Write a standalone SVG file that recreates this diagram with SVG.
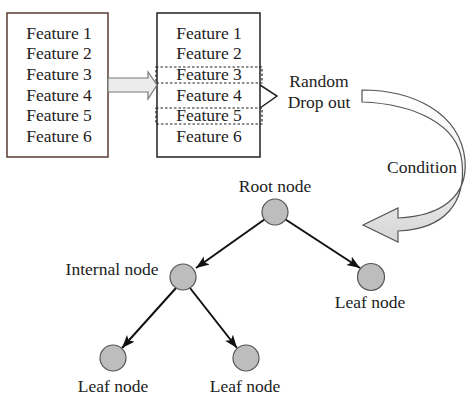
<svg xmlns="http://www.w3.org/2000/svg" width="474" height="404" viewBox="0 0 474 404">
<style>
text{font-family:"Liberation Serif","DejaVu Serif","Times New Roman",serif;font-size:17.5px;fill:#222}
.c{text-anchor:middle}
.box{fill:#fff;stroke-width:1.5}
.dash{fill:none;stroke:#222;stroke-width:1.2;stroke-dasharray:2.5 2}
.node{fill:#bdbdbd;stroke:#555;stroke-width:1.2}
.edge{stroke:#111;stroke-width:2;fill:none;marker-end:url(#ah)}
</style>
<defs>
<marker id="ah" markerUnits="userSpaceOnUse" markerWidth="14" markerHeight="12" refX="13" refY="5" orient="auto">
<path d="M0,0 L13,5 L0,10 L3,5 Z" fill="#111"/>
</marker>
<linearGradient id="g1" x1="0" y1="0" x2="0" y2="1">
<stop offset="0" stop-color="#ffffff"/>
<stop offset="0.5" stop-color="#f2f2f2"/>
<stop offset="1" stop-color="#d6d6d6"/>
</linearGradient>
</defs>
<rect width="474" height="404" fill="#fff"/>
<g font-family="Liberation Serif, DejaVu Serif, serif">
<g id="feature-box-left">
<rect class="box" x="7" y="13" width="101" height="144" stroke="#5a3b30"/>
<text class="c" x="59" y="38.5">Feature 1</text>
<text class="c" x="59" y="59.2">Feature 2</text>
<text class="c" x="59" y="79.9">Feature 3</text>
<text class="c" x="59" y="100.6">Feature 4</text>
<text class="c" x="59" y="121.3">Feature 5</text>
<text class="c" x="59" y="142">Feature 6</text>
</g>
<g id="feature-box-right">
<rect class="box" x="157" y="13" width="103" height="144" stroke="#222"/>
<rect class="dash" x="156" y="67" width="106" height="16"/>
<rect class="dash" x="156" y="108" width="106" height="16"/>
<text class="c" x="209" y="38.5">Feature 1</text>
<text class="c" x="209" y="59.2">Feature 2</text>
<text class="c" x="209" y="79.9">Feature 3</text>
<text class="c" x="209" y="100.6">Feature 4</text>
<text class="c" x="209" y="121.3">Feature 5</text>
<text class="c" x="209" y="142">Feature 6</text>
</g>
<g id="random-dropout">
<text class="c" x="319" y="87">Random</text>
<text class="c" x="319" y="108">Drop out</text>
</g>
<g id="condition-label">
<text class="c" x="422" y="173">Condition</text>
</g>
<g id="connectors">
<path d="M108,78 L148,78 L148,72 L157,85 L148,99 L148,92 L108,92 Z" fill="#ececec" stroke="#777" stroke-width="1.2"/>
<path d="M260,85 L277,96 L260,108" fill="none" stroke="#222" stroke-width="1.5"/>
<path d="M362,90 C412,90 460,112 465,160 C468,196 442,216 398,218 L398,208 L363,225 L398,242 L398,231 C446,229 466,202 462,162 C458,124 414,104 362,102 Z" fill="url(#g1)" stroke="#555" stroke-width="1.2"/>
<line class="edge" x1="264.4" y1="219.5" x2="196" y2="268"/>
<line class="edge" x1="285.6" y1="219.5" x2="360" y2="268"/>
<line class="edge" x1="176" y1="288" x2="122" y2="348"/>
<line class="edge" x1="190" y1="288" x2="237" y2="348"/>
</g>
<g id="root-node">
<circle class="node" cx="275" cy="212" r="13"/>
<text class="c" x="275" y="192">Root node</text>
</g>
<g id="internal-node">
<circle class="node" cx="183" cy="277" r="13"/>
<text class="c" x="112" y="275">Internal node</text>
</g>
<g id="leaf-node-right">
<circle class="node" cx="371" cy="277" r="13.5"/>
<text class="c" x="370" y="308">Leaf node</text>
</g>
<g id="leaf-node-left">
<circle class="node" cx="113" cy="358" r="13"/>
<text class="c" x="113" y="392">Leaf node</text>
</g>
<g id="leaf-node-middle">
<circle class="node" cx="246" cy="358" r="13"/>
<text class="c" x="245" y="392">Leaf node</text>
</g>
</g>
</svg>
